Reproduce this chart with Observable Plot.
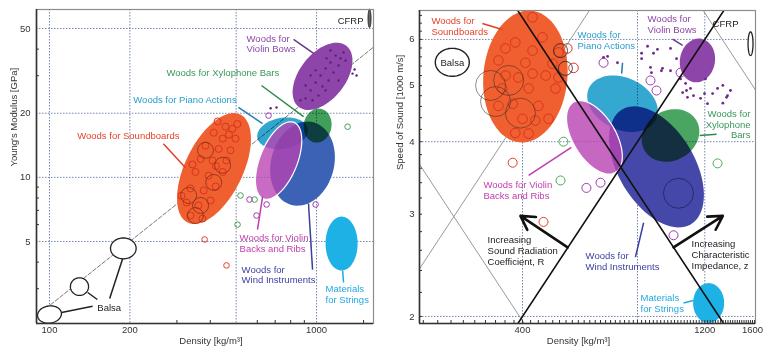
<!DOCTYPE html>
<html><head><meta charset="utf-8">
<script src="https://cdn.jsdelivr.net/npm/d3@7"></script>
<script src="https://cdn.jsdelivr.net/npm/@observablehq/plot@0.6"></script>
<style>
body{margin:0;background:#fff;}
#wrap{display:flex;width:768px;height:352px;overflow:hidden;}
#wrap svg{display:block;flex:none;}
</style></head><body><div id="wrap"></div>
<script>
// ---------------- DATA (density kg/m3, modulus GPa / sound speed 1000 m/s) ----------------
const leftXTicks = [100, 200, 500, 1000];
const leftYTicks = [5, 10, 20, 50];
const leftXMinor = [300, 400, 600, 700, 800, 900, 1500];
const leftYMinor = [3, 4, 6, 7, 8, 9, 30, 40];
const rightXTicks = [400, 800, 1200, 1600];
const rightYTicks = [2, 3, 4, 5, 6];
const rightXGrid = [400, 800, 1200];
const rightYGrid = [2, 4, 6];
const rightXMinor = d3.range(220, 1621, 20);
const rightYMinor = d3.range(2, 6.71, 0.2);

// property regions: centre (rho, val), spread along main axes in decades, tilt
const leftRegions = [
  {key:"balsa", rho:100, val:2.27, a:0.045, b:0.032, angle:8},
  {key:"balsa", rho:129.5, val:3.07, a:0.034, b:0.033, angle:0},
  {key:"balsa", rho:189, val:4.64, a:0.048, b:0.039, angle:0},
  {key:"sound", rho:413, val:11.0, a:0.225, b:0.108, angle:64},
  {key:"wind", rho:886, val:11.6, a:0.160, b:0.118, angle:75},
  {key:"xylo", rho:1009, val:17.5, a:0.064, b:0.052, angle:80},
  {key:"piano", rho:746, val:16.1, a:0.096, b:0.058, angle:10},
  {key:"backs", rho:721, val:12.0, a:0.154, b:0.070, angle:68},
  {key:"bows", rho:1053, val:29.8, a:0.145, b:0.086, angle:52},
  {key:"strings", rho:1241, val:4.89, a:0.101, b:0.060, angle:90},
  {key:"cfrp", rho:1579, val:55.7, a:0.034, b:0.0056, angle:90}
];
const rightRegions = [
  {key:"balsa", rho:262, val:5.48, a:0.0445, b:0.0366, angle:0},
  {key:"sound", rho:407, val:5.18, a:0.173, b:0.110, angle:85},
  {key:"wind", rho:897, val:3.62, a:0.175, b:0.0995, angle:-59},
  {key:"piano", rho:731, val:4.65, a:0.097, b:0.068, angle:-25},
  {key:"backs", rho:617, val:4.07, a:0.107, b:0.056, angle:-59},
  {key:"xylo", rho:976, val:4.10, a:0.0785, b:0.0654, angle:30},
  {key:"bows", rho:1148, val:5.52, a:0.0576, b:0.0458, angle:80},
  {key:"strings", rho:1228, val:2.11, a:0.052, b:0.0406, angle:90},
  {key:"cfrp", rho:1581, val:5.90, a:0.031, b:0.0065, angle:90}
];

// individual species
const leftSoundSpecies = [[426,18.3],[456,17.3],[484,16.9],[412,16.2],[445,15.2],[497,15.2],[384,14.1],[430,13.6],[476,13.4],[368,12.2],[408,12.0],[460,12.0],[352,10.6],[394,10.2],[445,10.6],[337,8.87],[378,8.68],[419,9.06],[326,7.62],[361,7.38],[401,7.79],[337,6.62],[374,6.40],[505,17.8],[470,15.9],[420,11.3],[343,11.5],[312,8.2]];
const leftSoundGroups = [[368,7.38],[332,8.22],[412,9.47],[352,6.62],[445,11.4],[384,13.4]];
const leftBowDots = [[1179,37.3],[1230,36.2],[1128,34.6],[1209,33.5],[1081,32.5],[1158,31.1],[1035,30.1],[1109,28.5],[992,27.9],[1053,26.7],[950,25.6],[1017,24.2],[910,23.5],[966,23.0],[1262,38.6],[1090,36.2],[1128,39.4],[992,31.8],[1209,28.5],[910,27.0],[1081,25.6],[1284,35.4],[950,30.1],[871,23.0],[1364,30.7],[1412,30.1],[1388,32.1],[673,21.1],[708,21.3]];
const leftGreenSpecies = [[519,8.22],[586,7.87],[506,6.0],[1307,17.3]];
const leftRedSpecies = [[381,5.11],[460,3.86]];
const leftPurpleSpecies = [[561,7.87],[650,7.46],[596,6.62],[661,19.5],[992,7.46]];

const rightSoundSpecies = [[425,6.55],[383,5.93],[451,6.05],[361,5.79],[425,5.74],[497,5.70],[346,5.52],[407,5.47],[479,5.45],[361,5.20],[425,5.24],[497,5.16],[390,5.16],[460,5.20],[354,4.94],[415,4.94],[488,4.94],[377,4.65],[440,4.61],[346,4.61],[400,4.38],[468,4.38],[432,4.35],[383,4.14],[415,4.13],[524,5.79],[544,5.36]];
const rightSoundGroupsBig = [[340,4.69],[395,4.48],[330,5.00],[368,5.10]];
const rightSoundGroupsSmall = [[503,5.74],[518,5.35]];
const rightWindGroups = [[1024,3.26]];
const rightBowDots = [[850,5.84],[902,5.77],[976,5.79],[820,5.68],[881,5.68],[820,5.56],[865,5.37],[930,5.35],[976,5.30],[1037,5.13],[1069,5.04],[1101,4.94],[1121,4.80],[1170,4.75],[1220,4.65],[1258,4.84],[1296,4.94],[1338,5.00],[1376,4.80],[1401,4.90],[1081,4.77],[1050,4.86],[1338,4.66],[1205,5.13],[1012,5.56],[1075,4.90],[1198,4.84],[1368,4.77],[924,5.30],[870,5.26],[652,5.59],[668,5.61],[709,5.47]];
const rightPurpleSpecies = [[865,5.10],[897,4.90],[1037,5.26],[652,5.47],[588,3.33],[640,3.40],[994,2.76]];
const rightRedSpecies = [[377,3.68],[454,2.91]];
const rightGreenSpecies = [[512,4.00],[503,3.43],[1296,3.67]];

// guide lines
const leftSpecificStiffness = [0.025];          // E / rho
const radiationBlack = [0.005], radiationGrey = [0.01124];   // c / rho
const impedanceBlack = [2615], impedanceGrey = [786, 8000];   // c * rho

// labels
const leftLabels = [
  {key:"bows", text:"Woods for\nViolin Bows", rho:547, val:42.5},
  {key:"xylo", text:"Woods for Xylophone Bars", rho:274, val:31.1},
  {key:"piano", text:"Woods for Piano Actions", rho:206, val:23.2},
  {key:"sound", text:"Woods for Soundboards", rho:127, val:15.7},
  {key:"backs", text:"Woods for Violin\nBacks and Ribs", rho:515, val:4.92},
  {key:"wind", text:"Woods for\nWind Instruments", rho:524, val:3.50},
  {key:"strings", text:"Materials\nfor Strings", rho:1081, val:2.83},
  {key:"balsa", text:"Balsa", rho:151, val:2.45}
];
const leftCfrp = [{text:"CFRP", rho:1500, val:54.5}];
const leftLeaders = [
  {key:"bows", r1:820, v1:44.4, r2:975, v2:38.2},
  {key:"xylo", r1:622, v1:27.0, r2:894, v2:19.3},
  {key:"piano", r1:510, v1:21.3, r2:628, v2:17.9},
  {key:"sound", r1:267, v1:14.4, r2:323, v2:11.1},
  {key:"backs", r1:601, v1:5.69, r2:628, v2:8.13},
  {key:"wind", r1:966, v1:3.69, r2:933, v2:7.54},
  {key:"strings", r1:1252, v1:3.65, r2:1262, v2:3.21},
  {key:"balsa", r1:145, v1:2.48, r2:111, v2:2.32},
  {key:"balsa", r1:151, v1:2.67, r2:139, v2:2.88},
  {key:"balsa", r1:168, v1:2.70, r2:188, v2:4.16}
];
const rightLabels = [
  {key:"sound", text:"Woods for\nSoundboards", rho:231, val:6.32},
  {key:"piano", text:"Woods for\nPiano Actions", rho:557, val:5.99},
  {key:"bows", text:"Woods for\nViolin Bows", rho:850, val:6.37},
  {key:"backs", text:"Woods for Violin\nBacks and Ribs", rho:316, val:3.30},
  {key:"wind", text:"Woods for\nWind Instruments", rho:585, val:2.49},
  {key:"strings", text:"Materials\nfor Strings", rho:815, val:2.11},
  {key:"note", text:"Increasing\nSound Radiation\nCoefficient, R", rho:324, val:2.60},
  {key:"note", text:"Increasing\nCharacteristic\nImpedance, z", rho:1108, val:2.56}
];
const rightXyloLabel = [{key:"xylo", text:"Woods for\nXylophone\nBars", rho:1581, val:4.29}];
const rightCentered = [{text:"Balsa", rho:262, val:5.46}, {text:"CFRP", rho:1360, val:6.37}];
const rightLeaders = [
  {key:"sound", r1:314, v1:6.39, r2:354, v2:6.24},
  {key:"piano", r1:731, v1:5.47, r2:727, v2:5.24},
  {key:"bows", r1:988, v1:6.01, r2:1050, v2:5.86},
  {key:"xylo", r1:1163, v1:4.10, r2:1288, v2:4.12},
  {key:"backs", r1:415, v1:3.50, r2:537, v2:3.91},
  {key:"wind", r1:790, v1:2.53, r2:830, v2:2.90},
  {key:"strings", r1:1056, v1:2.11, r2:1121, v2:2.13}
];
const rightArrows = [
  {r1:525, v1:2.63, r2:395, v2:2.98},
  {r1:994, v1:2.63, r2:1338, v2:2.98}
];

// ---------------- STYLE / LAYOUT ----------------
const FONT = "'Liberation Sans', Arial, Helvetica, sans-serif";
const FS = 9.5;
const LEFT = {w:384, h:352, mL:36, mR:11, mT:9, mB:29, x:[89.4,1634], y:[2.06,61.4]};
const RIGHT = {w:384, h:352, mL:35, mR:13, mT:10, mB:29, x:[215,1629], y:[1.945,6.73]};
const labelColor = {sound:"#E4432A", piano:"#2A9CCF", xylo:"#38985A", bows:"#8B47A8", backs:"#C23CAE", wind:"#3B3F9F", strings:"#23A8E0", balsa:"#222", note:"#222"};
const leaderColor = {sound:"#E0402A", piano:"#1F7FAF", xylo:"#2F8A4C", bows:"#6E3590", backs:"#C03CAE", wind:"#3B3F9F", strings:"#23A8E0", balsa:"#222"};
const leftFill = {
  balsa:{fill:"white", stroke:"#222", sw:1.3},
  sound:{fill:"#EF5F30"},
  wind:{fill:"#3C62B5"},
  xylo:{fill:"#40A05A", blend:"multiply"},
  piano:{fill:"#1C9CC9", blend:"multiply", fo:0.9},
  backs:{fill:"#B842B2", fo:0.78, stroke:"white", sw:1.2},
  bows:{fill:"#8E45AA"},
  strings:{fill:"#1DB1E6"},
  cfrp:{fill:"#666", stroke:"#222", sw:1}
};
const rightFill = {
  balsa:{fill:"white", stroke:"#222", sw:1.4},
  sound:{fill:"#EF5F30"},
  wind:{fill:"#4548A9"},
  piano:{fill:"#1E9ECC", blend:"multiply", fo:0.9},
  backs:{fill:"#B842B2", fo:0.8, stroke:"white", sw:1.2},
  xylo:{fill:"#40A05A", blend:"multiply", fo:0.95},
  bows:{fill:"#8E45AA"},
  strings:{fill:"#1DB1E6"},
  cfrp:{fill:"white", stroke:"#222", sw:1.3}
};

function aspect(L){
  const iw = L.w - L.mL - L.mR, ih = L.h - L.mT - L.mB;
  return (iw / Math.log10(L.x[1]/L.x[0])) / (ih / Math.log10(L.y[1]/L.y[0]));
}
function regionMarks(regions, L, styles){
  const k = aspect(L);
  return regions.map(e => {
    const th = e.angle * Math.PI / 180;
    const pts = d3.range(72).map(i => {
      const t = i / 72 * 2 * Math.PI;
      const u = e.a * Math.cos(t), v = e.b * Math.sin(t);
      const dx = u*Math.cos(th) - v*Math.sin(th);
      const dy = u*Math.sin(th) + v*Math.cos(th);
      return {x: e.rho * Math.pow(10, dx), y: e.val * Math.pow(10, dy * k)};
    });
    const s = styles[e.key];
    const opts = {x:"x", y:"y", curve:"linear-closed", fill:s.fill, fillOpacity:s.fo ?? 1,
      stroke:s.stroke ?? "none", strokeWidth:s.sw ?? 1};
    if (s.blend) opts.mixBlendMode = s.blend;
    return Plot.line(pts, opts);
  });
}
function gridMarks(xGrid, yGrid){
  return [
    Plot.gridX(xGrid, {stroke:"#6d82a8", strokeOpacity:0.95, strokeDasharray:"1.5,1.5"}),
    Plot.gridY(yGrid, {stroke:"#6d82a8", strokeOpacity:0.95, strokeDasharray:"1.5,1.5"}),
  ];
}
function axisMarks(L, xTicks, yTicks, xMinor, yMinor, yPad){
  const iw = L.w - L.mL - L.mR, ih = L.h - L.mT - L.mB;
  return [
    Plot.frame({stroke:"#8c8c8c", strokeWidth:1.2}),
    Plot.ruleX(xMinor, {insetTop: ih - 3, stroke:"#333"}),
    Plot.ruleY(yMinor, {insetRight: iw - 3, stroke:"#333"}),
    Plot.ruleY([L.y[0]], {stroke:"#333", strokeWidth:1.6}),
    Plot.ruleX([L.x[0]], {stroke:"#333", strokeWidth:1.6}),
    Plot.axisX(xTicks, {anchor:"bottom", tickSize:0, tickPadding:3, tickFormat:d=>`${d}`, label:null, color:"#333", fontSize:FS}),
    Plot.axisY(yTicks, {anchor:"left", tickSize:0, tickPadding:yPad, tickFormat:d=>`${d}`, label:null, color:"#333", fontSize:FS})
  ];
}
function guideLine(ks, L, f, style){
  const pts = ks.flatMap((k,i) => L.x.map(r => ({k:i, r, v:f(k, r)})));
  return Plot.line(pts, {x:"r", y:"v", z:"k", clip:true, ...style});
}
function dots(arr, opts){ return Plot.dot(arr, {x:d=>d[0], y:d=>d[1], ...opts}); }

// ---------------- LEFT PANEL ----------------
const leftPlot = Plot.plot({
  width:LEFT.w, height:LEFT.h, marginLeft:LEFT.mL, marginRight:LEFT.mR, marginTop:LEFT.mT, marginBottom:LEFT.mB,
  x:{type:"log", domain:LEFT.x}, y:{type:"log", domain:LEFT.y}, color:{type:"identity"},
  style:{fontFamily:FONT, fontSize:FS+"px", background:"white", color:"#333"},
  marks:[
    ...gridMarks(leftXTicks, leftYTicks),
    guideLine(leftSpecificStiffness, LEFT, (k,r)=>k*r, {stroke:"#777", strokeWidth:1, strokeDasharray:"4,2"}),
    ...regionMarks(leftRegions, LEFT, leftFill),
    dots(leftSoundSpecies, {r:3.5, stroke:"#D9341D", strokeWidth:1}),
    dots(leftSoundGroups, {r:8, stroke:"#7A2616", strokeWidth:1, strokeOpacity:0.7}),
    dots(leftBowDots, {r:1.2, fill:"#5A2273"}),
    dots(leftGreenSpecies, {r:2.8, stroke:"#3FA05A", strokeWidth:1}),
    dots(leftRedSpecies, {r:2.8, stroke:"#E0402A", strokeWidth:1}),
    dots(leftPurpleSpecies, {r:2.8, stroke:"#A03AB0", strokeWidth:1}),
    Plot.link(leftLeaders, {x1:"r1", y1:"v1", x2:"r2", y2:"v2", stroke:d=>leaderColor[d.key], strokeWidth:1.5}),
    Plot.text(leftLabels, {x:"rho", y:"val", text:"text", fill:d=>labelColor[d.key], textAnchor:"start", lineAnchor:"middle", lineHeight:1.15, fontSize:FS}),
    Plot.text(leftCfrp, {x:"rho", y:"val", text:"text", fill:"#222", textAnchor:"end", fontSize:FS}),
    ...axisMarks(LEFT, leftXTicks, leftYTicks, leftXMinor, leftYMinor, 6),
    Plot.text(["Density [kg/m³]"], {frameAnchor:"bottom", dy:20, dx:6, fill:"#333", fontSize:FS}),
    Plot.text(["Young's Modulus [GPa]"], {frameAnchor:"left", rotate:-90, dx:-23, fill:"#333", fontSize:FS})
  ]
});

// ---------------- RIGHT PANEL ----------------
const rightPlot = Plot.plot({
  width:RIGHT.w, height:RIGHT.h, marginLeft:RIGHT.mL, marginRight:RIGHT.mR, marginTop:RIGHT.mT, marginBottom:RIGHT.mB,
  x:{type:"log", domain:RIGHT.x}, y:{type:"log", domain:RIGHT.y}, color:{type:"identity"},
  style:{fontFamily:FONT, fontSize:FS+"px", background:"white", color:"#333"},
  marks:[
    ...gridMarks(rightXGrid, rightYGrid),
    guideLine(radiationGrey, RIGHT, (k,r)=>k*r, {stroke:"#999", strokeWidth:1}),
    guideLine(impedanceGrey, RIGHT, (k,r)=>k/r, {stroke:"#999", strokeWidth:1}),
    ...regionMarks(rightRegions, RIGHT, rightFill),
    dots(rightSoundSpecies, {r:4.8, stroke:"#D9341D", strokeWidth:1}),
    dots(rightSoundGroupsBig, {r:15, stroke:"#3a2a22", strokeWidth:1, strokeOpacity:0.55}),
    dots(rightSoundGroupsSmall, {r:7, stroke:"#222", strokeWidth:1, strokeOpacity:0.8}),
    dots(rightWindGroups, {r:15, stroke:"#26296e", strokeWidth:1}),
    dots(rightBowDots, {r:1.4, fill:"#6A2A88"}),
    dots(rightPurpleSpecies, {r:4.5, stroke:"#A03AB0", strokeWidth:1}),
    dots(rightRedSpecies, {r:4.5, stroke:"#E0402A", strokeWidth:1}),
    dots(rightGreenSpecies, {r:4.5, stroke:"#4BAA5A", strokeWidth:1}),
    guideLine(radiationBlack, RIGHT, (k,r)=>k*r, {stroke:"#111", strokeWidth:1.6}),
    guideLine(impedanceBlack, RIGHT, (k,r)=>k/r, {stroke:"#111", strokeWidth:1.6}),
    Plot.arrow(rightArrows, {x1:"r1", y1:"v1", x2:"r2", y2:"v2", stroke:"#111", strokeWidth:2.6, headLength:9}),
    Plot.link(rightLeaders, {x1:"r1", y1:"v1", x2:"r2", y2:"v2", stroke:d=>leaderColor[d.key], strokeWidth:1.5}),
    Plot.text(rightLabels, {x:"rho", y:"val", text:"text", fill:d=>labelColor[d.key], textAnchor:"start", lineAnchor:"middle", lineHeight:1.15, fontSize:FS}),
    Plot.text(rightXyloLabel, {x:"rho", y:"val", text:"text", fill:d=>labelColor[d.key], textAnchor:"end", lineAnchor:"middle", lineHeight:1.15, fontSize:FS}),
    Plot.text(rightCentered, {x:"rho", y:"val", text:"text", fill:"#222", textAnchor:"middle", fontSize:FS}),
    ...axisMarks(RIGHT, rightXTicks, rightYTicks, rightXMinor, rightYMinor, 5),
    Plot.text(["Density [kg/m³]"], {frameAnchor:"bottom", dy:20, dx:-9, fill:"#333", fontSize:FS}),
    Plot.text(["Speed of Sound [1000 m/s]"], {frameAnchor:"left", rotate:-90, dx:-20, dy:3, fill:"#333", fontSize:FS})
  ]
});

document.getElementById("wrap").append(leftPlot, rightPlot);
</script></body></html>
